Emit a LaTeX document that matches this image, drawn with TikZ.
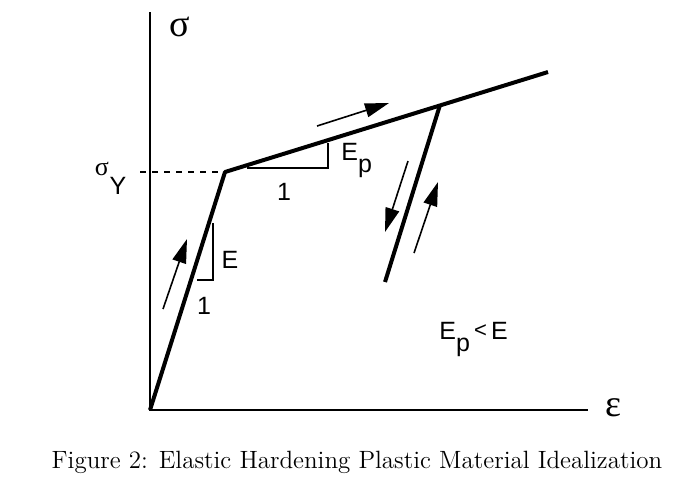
\documentclass[tikz,border=0pt]{standalone}
\usepackage{fontspec}
\newfontfamily\arialfont{Liberation Sans}
\newfontfamily\greekfont{Liberation Serif}
\usetikzlibrary{arrows.meta}
\usetikzlibrary{positioning}

\begin{document}
\begin{tikzpicture}[x=0.5pt, y=-0.5pt,
    axis/.style={black, line width=1pt},
    curve/.style={black, line width=2pt, line join=round},
    slope/.style={black, line width=0.9pt},
    flow/.style={black, line width=0.8pt, -{Triangle[length=12pt, width=7pt]}},
    lbl/.style={font=\arialfont\fontsize{12.5}{14}\selectfont, inner sep=0pt},
    greek/.style={font=\greekfont\fontsize{19}{21}\selectfont, inner sep=0pt}]
  \useasboundingbox (0,0) rectangle (699,495);

  % axes
  \coordinate (O) at (150,410);
  \coordinate (top) at (150,12);
  \coordinate (right) at (588,410);
  \draw[axis] (top) -- (O) -- (right);
  \node[greek] (sig) at (180,27) {σ};
  \node[greek] (eps) at (613,408) {ε};

  % stress-strain path
  \coordinate (Y) at (225,172);
  \coordinate (end) at (548,72);
  \coordinate (U) at (440,105);
  \coordinate (R) at (385,282);
  \draw[curve] (O) -- (Y) -- (end);
  \draw[curve] (U) -- (R);

  % yield stress
  \coordinate (dashL) at (140,172);
  \draw[black, line width=0.9pt, dashed] (dashL) -- (Y);
  \node[greek, font=\greekfont\fontsize{13}{15}\selectfont] (sY) at (102,169) {σ};
  \node[lbl] (sYsub) at (118,186) {Y};

  % slope triangles
  \coordinate (e1) at (213,223);
  \coordinate (e2) at (213,280);
  \coordinate (e3) at (197,280);
  \draw[slope] (e1) -- (e2) -- (e3);
  \node[lbl] (E) at (230,260) {E};
  \node[lbl] (one1) at (204,306) {1};

  \coordinate (p1) at (247,168);
  \coordinate (p2) at (328,168);
  \coordinate (p3) at (328,143);
  \draw[slope] (p1) -- (p2) -- (p3);
  \node[lbl, anchor=west] (Ep) at (341,160) {E\raisebox{-6pt}{p}};
  \node[lbl] (one2) at (284,192) {1};

  % loading directions
  \coordinate (a1s) at (163,309);
  \coordinate (a1e) at (187,239);
  \coordinate (a2s) at (317,126);
  \coordinate (a2e) at (389,103);
  \coordinate (a3s) at (408,161);
  \coordinate (a3e) at (385,232);
  \coordinate (a4s) at (414,253);
  \coordinate (a4e) at (438,182);
  \draw[flow] (a1s) -- (a1e);
  \draw[flow] (a2s) -- (a2e);
  \draw[flow] (a3s) -- (a3e);
  \draw[flow] (a4s) -- (a4e);

  \node[lbl, anchor=west] (cmp) at (439,339) {E\raisebox{-6pt}{p}\,\raisebox{1pt}{\fontsize{11}{13}\selectfont<}\,E};

  % caption
  \node[font=\fontsize{12.5}{14}\selectfont] (cap) at (357,462) {Figure 2: Elastic Hardening Plastic Material Idealization};
\end{tikzpicture}
\end{document}
